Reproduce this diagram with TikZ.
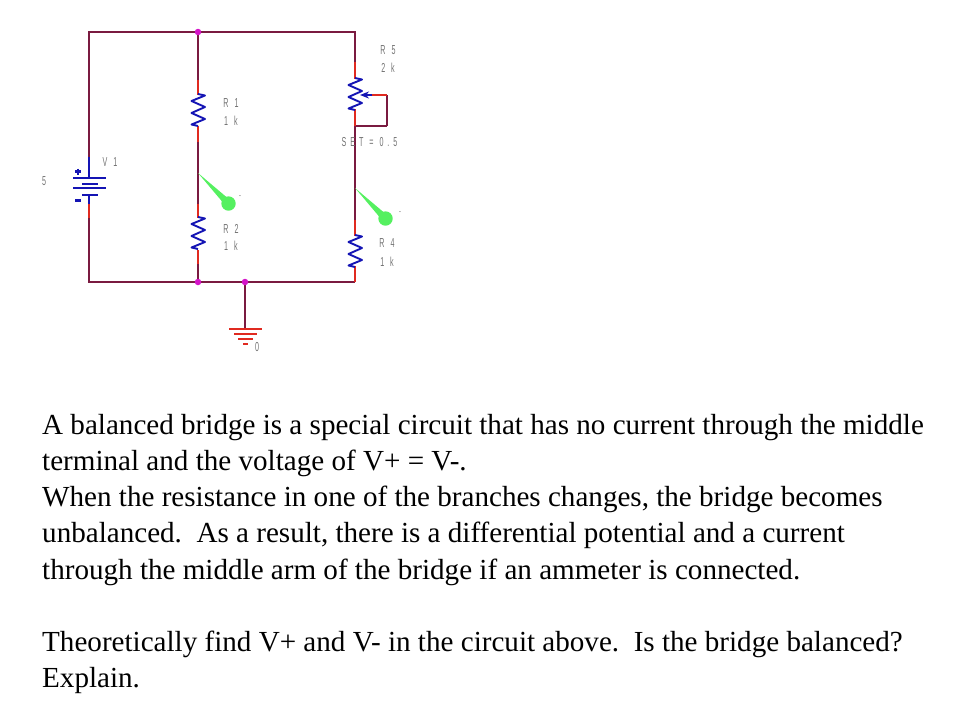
\documentclass[tikz,border=0pt]{standalone}
\usepackage{fontspec}
\setmainfont{Liberation Serif}
\newfontfamily\partfont{Liberation Sans}
\usetikzlibrary{arrows.meta}
\definecolor{wirecol}{HTML}{7A1A40}
\definecolor{leadcol}{HTML}{E02A20}
\definecolor{partcol}{HTML}{1414B4}
\definecolor{probecol}{HTML}{55F060}
\definecolor{dotcol}{HTML}{D414C8}
\newcommand{\partlabel}[1]{\scalebox{0.55}[1]{#1}}
\tikzset{
    wire/.style={draw=wirecol,line width=1.9pt},
    lead/.style={draw=leadcol,line width=1.9pt},
    part/.style={draw=partcol,line width=1.9pt},
    plate/.style={draw=leadcol,line width=2pt},
    joint/.style={circle,fill=dotcol,inner sep=0pt,minimum size=6.5pt},
    partname/.style={text=black!55,inner sep=0pt,font=\partfont\fontsize{13}{13}\selectfont},
    bodyline/.style={anchor=base west,inner sep=0pt,font=\fontsize{29.1}{33}\selectfont},
    zigzag/.pic={
        \draw[part,line join=round] (0,-1) -- (7,0.5) -- (-6.5,6) -- (7,12) -- (-6.5,18) -- (7,24) -- (-6.5,29.5) -- (0,31);
    },
    probe/.pic={
        \fill[probecol] (0,0) -- (29,24.5) -- (24.5,29) -- cycle;
        \fill[probecol] (30.5,30.5) circle (7.2);
    }
}
\begin{document}
\begin{tikzpicture}[x=1pt,y=-1pt]
    \useasboundingbox (0,0) rectangle (971,702);
    \coordinate (tl) at (89,32);
    \coordinate (tm) at (198,32);
    \coordinate (tr) at (355,32);
    \coordinate (bl) at (89,282);
    \coordinate (bm) at (198,282);
    \coordinate (bg) at (245,282);
    \coordinate (br) at (355,282);
    \coordinate (gnd) at (245,329);
    \coordinate (battop) at (89,157);
    \coordinate (batplus) at (89,178);
    \coordinate (batminus) at (89,195);
    \coordinate (batend) at (89,204);
    \coordinate (batlead) at (89,218);
    \coordinate (ra) at (198,95);
    \coordinate (rb) at (198,218);
    \coordinate (rd) at (355,236);
    \coordinate (re) at (355,79);
    \coordinate (wipe) at (387,95);
    \coordinate (wipetip) at (360,95);
    \coordinate (wipelow) at (387,126);
    \coordinate (wipejoin) at (355,126);
    \draw[wire] (batlead) -- (bl) -- (bm) -- (bg) -- (br);
    \draw[wire] (battop) -- (tl) -- (tm) -- (tr) -- (355,62);
    \draw[wire] (tm) -- (198,80);
    \draw[wire] (198,142) -- (198,204);
    \draw[wire] (198,264) -- (bm);
    \draw[wire] (wipejoin) -- (355,220);
    \draw[wire] (wipelow) -- (wipejoin);
    \draw[wire] (bg) -- (gnd);
    \draw[wire] (387,95) -- (wipelow);
    \draw[lead] (198,80) -- (ra);
    \draw[lead] (198,126) -- (198,142);
    \draw[lead] (198,204) -- (rb);
    \draw[lead] (198,250) -- (198,264);
    \draw[lead] (355,62) -- (re);
    \draw[lead] (355,109) -- (wipejoin);
    \draw[lead] (355,220) -- (rd);
    \draw[lead] (355,266) -- (br);
    \draw[lead] (wipe) -- (372,95);
    \draw[lead] (batend) -- (batlead);
    \pic at (ra) {zigzag};
    \pic at (rb) {zigzag};
    \pic at (rd) {zigzag};
    \pic at (re) {zigzag};
    \draw[part,-{Stealth[length=9pt,width=7pt]}] (372,95) -- (wipetip);
    \draw[part] (battop) -- (batplus);
    \draw[part] (batminus) -- (batend);
    \draw[part] (73,178) -- (106,178);
    \draw[part] (82,184) -- (98,184);
    \draw[part] (73,188) -- (106,188);
    \draw[part] (82,195) -- (98,195);
    \draw[part,line width=2.4pt] (75,171.5) -- (81,171.5) (78,168.5) -- (78,174.5);
    \draw[part,line width=2.4pt] (75,200.5) -- (81,200.5);
    \draw[plate] (229,329) -- (262,329);
    \draw[plate] (234,334) -- (257,334);
    \draw[plate] (238,339) -- (253,339);
    \draw[plate] (243,343.5) -- (248,343.5);
    \pic at (198,173) {probe};
    \pic at (355,188) {probe};
    \draw
    (tm) node[joint](jtop){}
    (bm) node[joint](jleft){}
    (bg) node[joint](jgnd){}
    ;
    \begin{scope}[every node/.style={partname}]
        \node (nra) at (231,103) {\partlabel{R\ \ \ 1}};
        \node (vra) at (231,121) {\partlabel{1\ \ \ k}};
        \node (nrb) at (231,229) {\partlabel{R\ \ \ 2}};
        \node (vrb) at (231,246) {\partlabel{1\ \ \ k}};
        \node (nrd) at (387,243) {\partlabel{R\ \ \ 4}};
        \node (vrd) at (387,262) {\partlabel{1\ \ \ k}};
        \node (nre) at (388,50) {\partlabel{R\ \ \ 5}};
        \node (vre) at (388,68) {\partlabel{2\ \ \ k}};
        \node (nset) at (369.5,142) {\partlabel{S\ \ E\ \ T\ \ \ =\ \ \ 0\ \ .\ \ 5}};
        \node (nbat) at (110,162) {\partlabel{V\ \ \ 1}};
        \node (vbat) at (44,181) {\partlabel{5}};
        \node (ngnd) at (257,347) {\partlabel{0}};
        \node[text=black!30] (pleft) at (240,198) {\partlabel{-}};
        \node[text=black!30] (pright) at (400,214) {\partlabel{-}};
    \end{scope}
    \begin{scope}[every node/.style={bodyline}]
        \node (la) at (42,434) {A balanced bridge is a special circuit that has no current through the middle};
        \node (lb) at (42,470) {terminal and the voltage of V+ = V-.};
        \node (lc) at (42,506) {When the resistance in one of the branches changes, the bridge becomes};
        \node (ld) at (42,542.5) {unbalanced.\ \ As a result, there is a differential potential and a current};
        \node (le) at (42,579) {through the middle arm of the bridge if an ammeter is connected.};
        \node (lf) at (42,651) {Theoretically find V+ and V- in the circuit above.\ \ Is the bridge balanced?};
        \node (lg) at (42,687.5) {Explain.};
    \end{scope}
\end{tikzpicture}
\end{document}
